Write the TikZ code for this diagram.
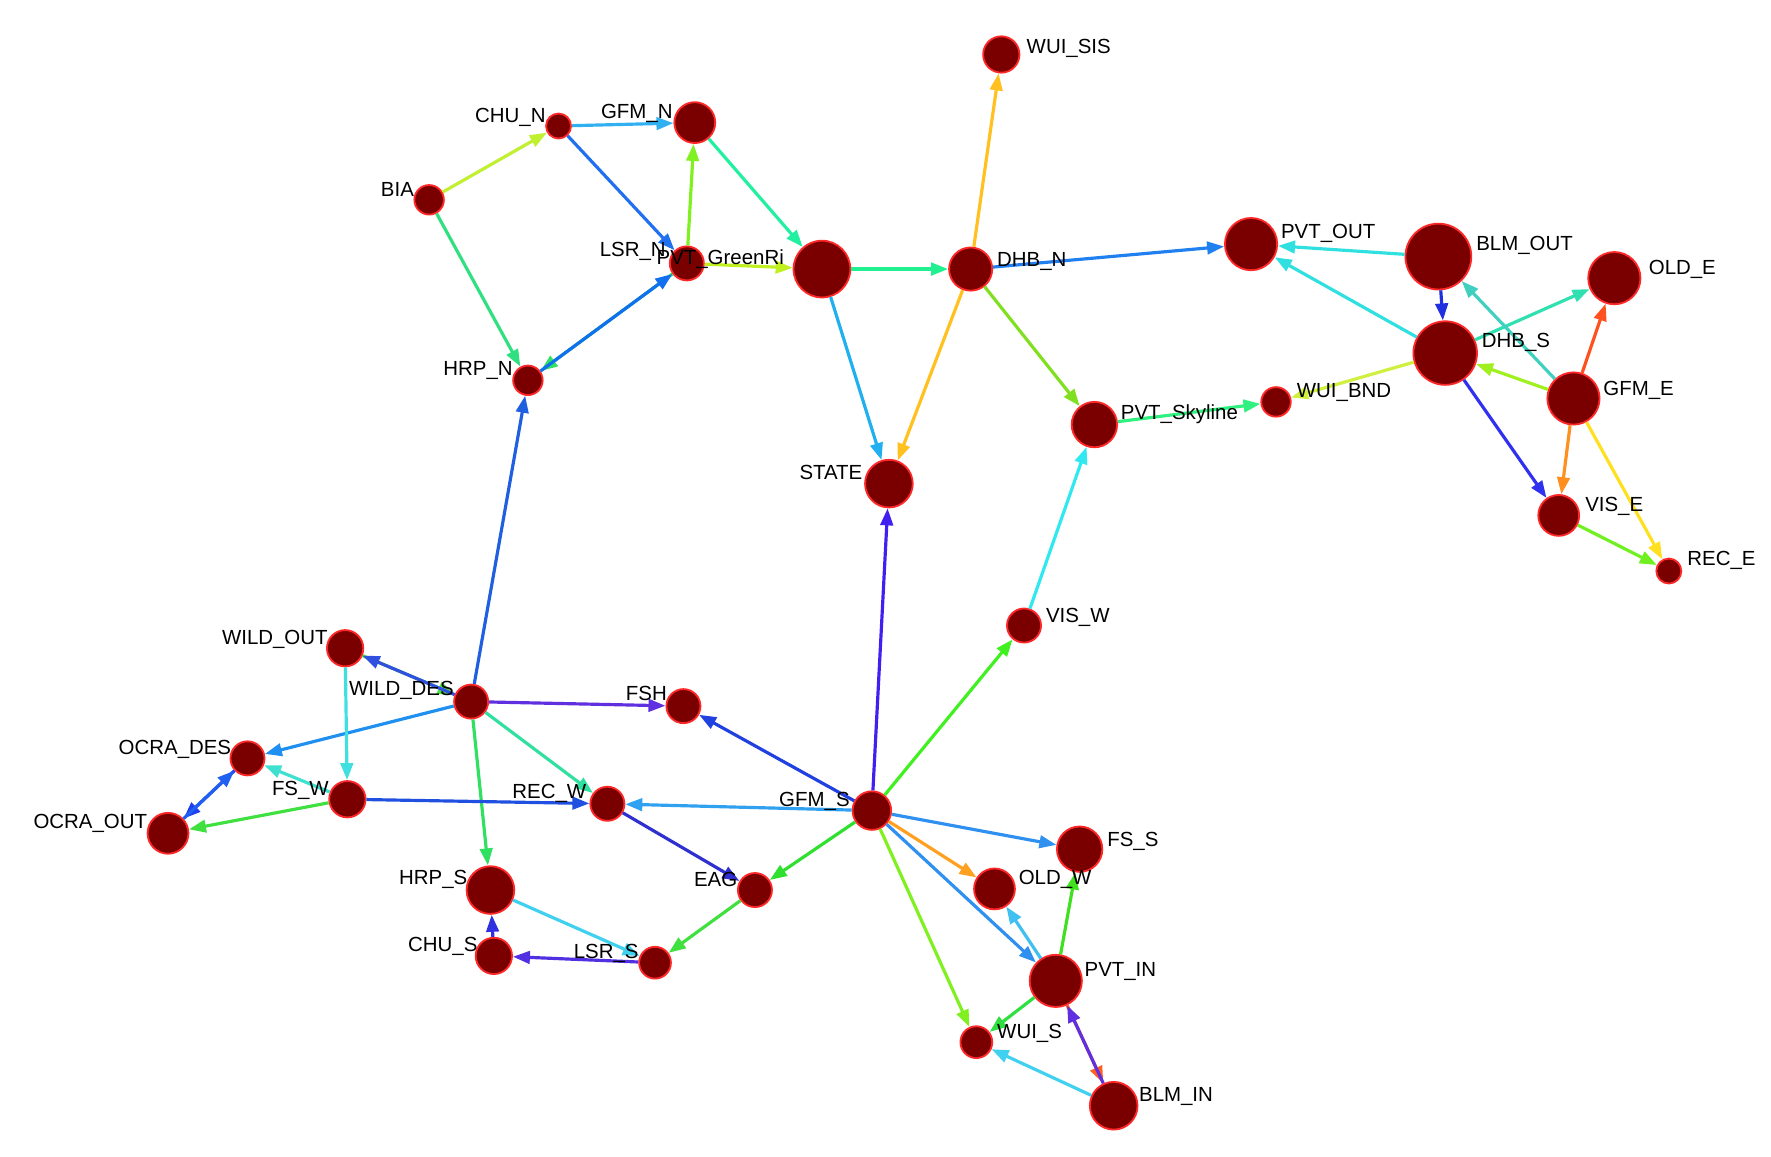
\documentclass[tikz,border=0pt]{standalone}
\usepackage{fontspec}
\setmainfont{Liberation Sans}
\usetikzlibrary{arrows.meta}
\tikzset{
 nd/.style={circle,fill={rgb,255:red,122;green,0;blue,0},draw={rgb,255:red,255;green,40;blue,40},line width=0.8pt,inner sep=0pt},
 ar/.style={line width=1.4pt,-{Triangle[length=7.5pt,width=5.5pt]}},
 lab/.style={inner sep=0pt,font=\fontsize{9}{10}\selectfont}
}
\newcommand\nd[4]{\node[nd,minimum size=#4pt] (#1) at (#2,#3) {};}
\newcommand\ed[3]{\definecolor{tmpc}{HTML}{#3}\draw[ar,tmpc] (#1) -- (#2);}
\newcommand\lbW[4]{\node[lab,anchor=west] (#1) at (#2,#3) {#4};}
\newcommand\lbE[4]{\node[lab,anchor=east] (#1) at (#2,#3) {#4};}
\begin{document}
\begin{tikzpicture}[x=0.5pt,y=-0.5pt]
\useasboundingbox (0,0) rectangle (1560,1019);
% nodes
\nd{WUISIS}{882}{48}{16}
\nd{CHUN}{492}{111}{11}
\nd{GFMN}{612}{108}{18}
\nd{BIA}{378}{176}{13}
\nd{LSRN}{605}{232}{15}
\nd{PVTGR}{724}{237}{25}
\nd{HRPN}{465}{335}{13}
\nd{DHBN}{855}{237}{19}
\nd{PVTOUT}{1102}{215}{23}
\nd{BLMOUT}{1267}{226}{29}
\nd{OLDE}{1422}{245}{23}
\nd{DHBS}{1273}{311}{28}
\nd{GFME}{1386}{351}{23}
\nd{WUIBND}{1124}{354}{13}
\nd{PVTSKY}{964}{374}{20}
\nd{STATE}{783}{426}{21}
\nd{VISE}{1373}{454}{18}
\nd{RECE}{1470}{503}{11}
\nd{VISW}{902}{551}{15}
\nd{WILDOUT}{304}{571}{16}
\nd{WILDDES}{415}{618}{15}
\nd{FSH}{602}{622}{15}
\nd{OCRADES}{218}{668}{15}
\nd{FSW}{306}{704}{16}
\nd{RECW}{535}{708}{15}
\nd{GFMS}{768}{714}{17}
\nd{OCRAOUT}{148}{734}{18}
\nd{FSS}{951}{748}{20}
\nd{OLDW}{876}{783}{18}
\nd{EAG}{665}{784}{15}
\nd{HRPS}{432}{784}{21}
\nd{CHUS}{435}{842}{16}
\nd{LSRS}{577}{848}{14}
\nd{PVTIN}{930}{864}{23}
\nd{WUIS}{860}{918}{14}
\nd{BLMIN}{981}{974}{21}
% edges
\ed{BIA}{CHUN}{C0F030}
\ed{CHUN}{GFMN}{30B0F0}
\ed{CHUN}{LSRN}{2070F0}
\ed{LSRN}{GFMN}{80F020}
\ed{GFMN}{PVTGR}{20F0A0}
\ed{LSRN}{PVTGR}{C0F020}
\ed{BIA}{HRPN}{30E080}
\ed{LSRN}{HRPN}{30E060}
\ed{HRPN}{LSRN}{1070F0}
\ed{PVTGR}{DHBN}{20F090}
\ed{PVTGR}{STATE}{20B0F0}
\ed{DHBN}{WUISIS}{FFC020}
\ed{DHBN}{STATE}{FFC020}
\ed{DHBN}{PVTOUT}{2080F0}
\ed{DHBN}{PVTSKY}{80E020}
\ed{PVTSKY}{WUIBND}{30F080}
\ed{DHBS}{PVTOUT}{30E0E0}
\ed{BLMOUT}{PVTOUT}{30E0E0}
\ed{BLMOUT}{DHBS}{2030E0}
\ed{DHBS}{OLDE}{30E0B0}
\ed{GFME}{OLDE}{FF5020}
\ed{GFME}{BLMOUT}{40D0C0}
\ed{GFME}{DHBS}{A0F020}
\ed{DHBS}{WUIBND}{D0F040}
\ed{DHBS}{VISE}{3030F0}
\ed{GFME}{VISE}{FF9020}
\ed{GFME}{RECE}{FFE020}
\ed{VISE}{RECE}{70F020}
\ed{VISW}{PVTSKY}{30E8F0}
\ed{GFMS}{VISW}{40F020}
\ed{GFMS}{STATE}{4020F0}
\ed{GFMS}{FSH}{2040E0}
\ed{GFMS}{RECW}{30A0F0}
\ed{GFMS}{EAG}{30E030}
\ed{GFMS}{FSS}{3090F0}
\ed{GFMS}{OLDW}{FFA020}
\ed{GFMS}{PVTIN}{3090F0}
\ed{GFMS}{WUIS}{80F020}
\ed{PVTIN}{FSS}{40E020}
\ed{PVTIN}{OLDW}{40C0F0}
\ed{PVTIN}{WUIS}{30E040}
\ed{PVTIN}{BLMIN}{FF6020}
\ed{BLMIN}{PVTIN}{6030E0}
\ed{BLMIN}{WUIS}{40D0F0}
\ed{WILDDES}{HRPN}{2060E0}
\ed{WILDDES}{FSH}{6030E0}
\ed{WILDDES}{OCRADES}{2090F0}
\ed{WILDDES}{RECW}{30E0A0}
\ed{WILDDES}{HRPS}{30E060}
\ed{WILDOUT}{WILDDES}{50E040}
\ed{WILDDES}{WILDOUT}{3050E0}
\ed{WILDOUT}{FSW}{40E0E0}
\ed{FSW}{OCRADES}{40E0D0}
\ed{FSW}{OCRAOUT}{40E040}
\ed{OCRADES}{OCRAOUT}{2040F0}
\ed{OCRAOUT}{OCRADES}{2060F0}
\ed{FSW}{RECW}{2050E0}
\ed{RECW}{EAG}{3030D0}
\ed{EAG}{LSRS}{40E040}
\ed{HRPS}{LSRS}{40D0F0}
\ed{LSRS}{CHUS}{5030E0}
\ed{CHUS}{HRPS}{3030E0}
% labels
\lbW{l1}{904}{43}{WUI\_SIS}
\lbE{l2}{481}{103}{CHU\_N}
\lbW{l3}{529}{100}{GFM\_N}
\lbE{l4}{365}{167}{BIA}
\lbW{l5}{528}{221}{LSR\_N}
\lbW{l6}{578}{228}{PVT\_GreenRi}
\lbE{l7}{452}{326}{HRP\_N}
\lbW{l8}{878}{230}{DHB\_N}
\lbW{l9}{1128}{206}{PVT\_OUT}
\lbW{l10}{1300}{216}{BLM\_OUT}
\lbW{l11}{1452}{237}{OLD\_E}
\lbW{l12}{1305}{302}{DHB\_S}
\lbW{l13}{1412}{344}{GFM\_E}
\lbW{l14}{1142}{346}{WUI\_BND}
\lbW{l15}{987}{365}{PVT\_Skyline}
\lbE{l16}{760}{416}{STATE}
\lbW{l17}{1396}{446}{VIS\_E}
\lbW{l18}{1486}{494}{REC\_E}
\lbW{l19}{921}{544}{VIS\_W}
\lbE{l20}{289}{563}{WILD\_OUT}
\lbE{l21}{400}{608}{WILD\_DES}
\lbW{l22}{551}{611}{FSH}
\lbE{l23}{204}{660}{OCRA\_DES}
\lbE{l24}{290}{696}{FS\_W}
\lbW{l25}{451}{699}{REC\_W}
\lbW{l26}{686}{706}{GFM\_S}
\lbE{l27}{130}{725}{OCRA\_OUT}
\lbW{l28}{975}{741}{FS\_S}
\lbW{l29}{897}{775}{OLD\_W}
\lbW{l30}{611}{775}{EAG}
\lbE{l31}{412}{775}{HRP\_S}
\lbE{l32}{421}{834}{CHU\_S}
\lbW{l33}{505}{840}{LSR\_S}
\lbW{l34}{955}{856}{PVT\_IN}
\lbW{l35}{878}{910}{WUI\_S}
\lbW{l36}{1003}{966}{BLM\_IN}
\end{tikzpicture}
\end{document}
